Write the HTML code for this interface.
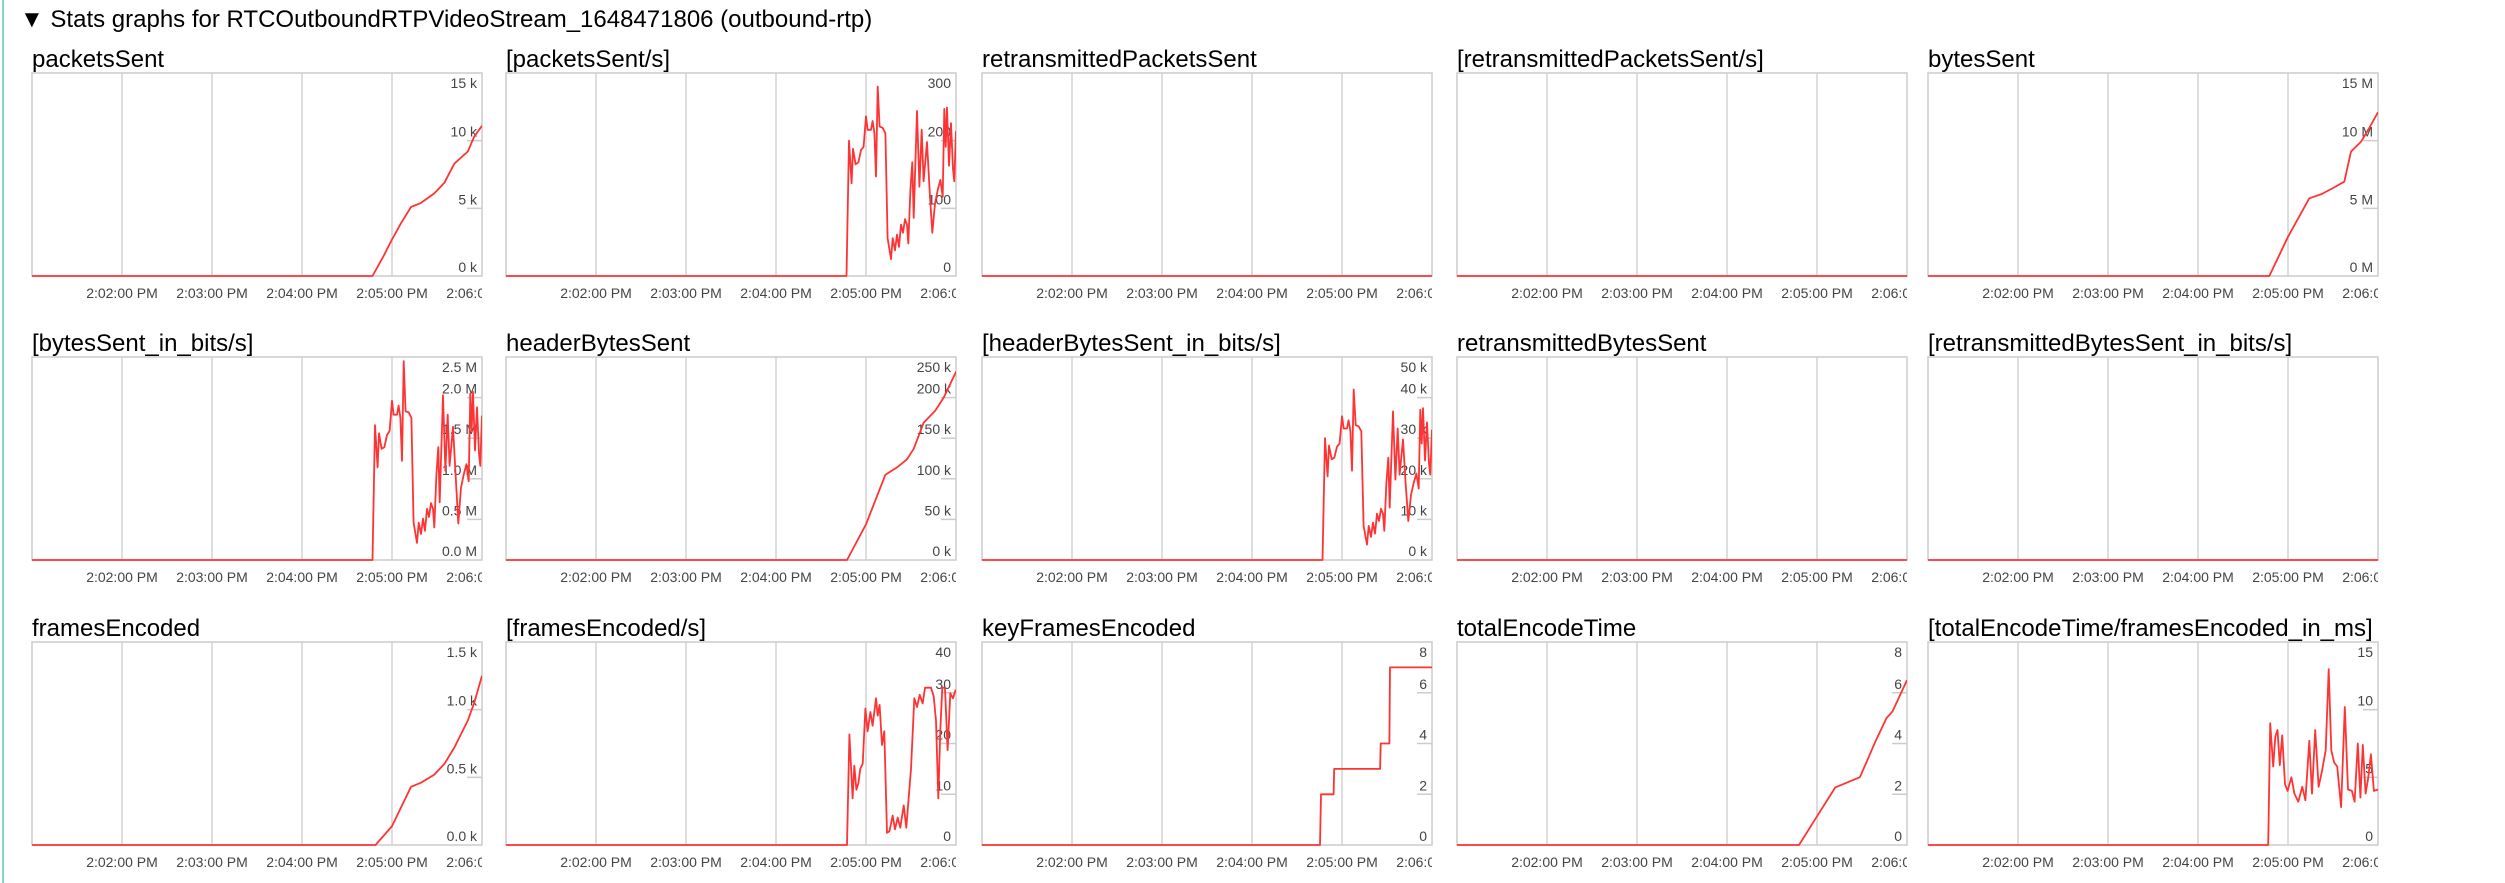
<!DOCTYPE html>
<html><head><meta charset="utf-8"><style>
html,body{margin:0;padding:0;background:#fff;width:2505px;height:883px;overflow:hidden}
svg{display:block}
text{font-family:"Liberation Sans",sans-serif}
</style></head><body>
<svg id="root" width="2505" height="883" viewBox="0 0 2505 883">
<line x1="3" y1="0" x2="3" y2="883" stroke="#7fd6d2" stroke-width="2"/>
<text x="20" y="27" font-size="24" fill="#000">▼ Stats graphs for RTCOutboundRTPVideoStream_1648471806 (outbound-rtp)</text>
</svg>
<script>
// ---- data (t = seconds after 2:01:00 PM) ----
const xTickLabels = ["2:02:00 PM","2:03:00 PM","2:04:00 PM","2:05:00 PM","2:06:00 PM"];
const xTickTimes = [60,120,180,240,300];

const packetsSentT = [0,227,234,240,246,252.7,259.3,268.2,275,281.5,290.5,294.8,300];
const packetsSentV = [0,0,1.4,2.7,3.9,5.1,5.4,6.1,6.9,8.3,9.2,10.3,11.1];

const rateT = [0,227,228.7,230.4,231.3,233.1,234.9,236.7,238.4,240,241.1,243.3,244.4,245.6,246.7,247.8,249.1,251.1,252.9,254.4,256.7,257.8,259.3,260.7,262,263.3,264.7,266,267.3,268.2,269.6,270.9,271.8,274,275.6,277.1,278.4,280.7,282.4,284.2,286,287.8,289.6,291.1,292.2,293.1,294,295.3,296.7,298,298.9,300];
const packetsRateV = [0,0,200,137,188,165,168,186,191,236,216,216,229,211,147,280,221,219,211,56,25,56,38,61,43,76,64,84,76,48,127,168,86,244,132,216,140,198,127,64,107,127,142,117,247,191,249,163,226,158,140,214];
const bitsRateV = [0,0,1.66,1.14,1.56,1.37,1.39,1.54,1.59,1.96,1.79,1.79,1.90,1.75,1.22,2.45,1.83,1.82,1.75,0.46,0.21,0.46,0.32,0.51,0.36,0.63,0.53,0.70,0.63,0.40,1.05,1.39,0.71,2.03,1.10,1.79,1.16,1.64,1.05,0.45,0.89,1.05,1.18,0.97,2.05,1.59,2.07,1.35,1.88,1.31,1.16,1.78];
const headerRateV = [0,0,30,20.6,28.2,24.8,25.2,27.9,28.7,35.4,32.4,32.4,34.4,31.7,22,42,33.2,32.9,31.7,8.4,3.8,8.4,5.7,9.2,6.5,11.4,9.6,12.6,11.4,7.2,19,25.2,12.9,36.6,19.8,32.4,21,29.7,19,9.6,16,19,21.3,17.6,37,28.7,37.4,24.5,33.9,23.7,21,32.1];

const bytesSentT = [0,227.5,234,240,247,254.2,262.5,270,277.5,282,288.7,294,300];
const bytesSentV = [0,0,1.5,2.9,4.3,5.74,6.06,6.5,6.97,9.19,9.93,10.9,12.1];

const headerSentT = [0,227.3,240,252.9,260.7,267.3,271.8,278.4,286.2,291.8,296.2,299.6,300];
const headerSentV = [0,0,44,105,114,124,137,169,184,200,217,230,232];

const framesEncT = [0,229,240,252.7,259.3,268.2,275,281.5,290.5,294.8,300];
const framesEncV = [0,0,0.14,0.43,0.46,0.52,0.6,0.72,0.92,1.05,1.25];

const framesRateT = [0,227.3,228.9,231.1,232.2,233.6,234.9,236.2,237.8,239.6,241.1,242.9,244.4,246.7,247.8,249.1,250.7,252.2,254,255.6,257.8,259.3,261.1,262.9,265.1,266.9,270,272.2,274,275.8,277.8,279.3,283.3,285.1,286.7,288.2,289.6,290.9,292.7,294.4,296.2,298,299.8];
const framesRateV = [0,0,21.8,9.2,15.6,10.9,12.2,15,16,26.9,22.4,26.2,23.5,28.9,25.5,27.6,19.7,22.4,2.4,2.7,5.8,3.1,5.4,3.4,7.8,3.4,15,28.9,27.2,29.6,27.9,31,31,29.3,24.5,9.2,23.1,31,31,18.7,29.9,28.9,30.6];

const keyFramesT = [0,225.3,226,234.4,234.8,265.4,265.8,271.6,272,300];
const keyFramesV = [0,0,2,2,3,3,4,4,7,7];

const encTimeT = [0,228,240,252.2,260.4,268.6,274,278.9,286.3,290.4,300];
const encTimeV = [0,0,1.13,2.27,2.47,2.67,3.4,4.07,5.0,5.27,6.5];

const encPerFrameT = [0,226.8,228.1,230.1,231.5,233,234.5,236.1,238,239.7,242.3,244.3,246.9,249.5,251.6,254.2,256,258.1,260.4,262.5,265.1,267.1,268.9,270.7,272.8,275.4,277.9,280,282.6,284.4,286.5,288.3,289.9,291.7,293.5,295.3,297.3,300];
const encPerFrameV = [0,0,9.0,5.8,8.0,8.5,5.9,8.1,4.5,4.0,5.0,3.8,3.2,4.3,3.3,7.7,3.8,8.5,4.3,5.4,7.0,13.0,7.0,6.1,5.8,2.8,10.2,4.1,4.0,3.2,7.5,3.5,7.4,3.8,5.0,6.7,4.0,4.1];

const flatT = [0,300];
const flatV = [0,0];

const titles = ["packetsSent","[packetsSent/s]","retransmittedPacketsSent","[retransmittedPacketsSent/s]","bytesSent",
"[bytesSent_in_bits/s]","headerBytesSent","[headerBytesSent_in_bits/s]","retransmittedBytesSent","[retransmittedBytesSent_in_bits/s]",
"framesEncoded","[framesEncoded/s]","keyFramesEncoded","totalEncodeTime","[totalEncodeTime/framesEncoded_in_ms]"];
const yTickValues = [[0,5,10,15],[0,100,200,300],[],[],[0,5,10,15],
[0,0.5,1,1.5,2,2.5],[0,50,100,150,200,250],[0,10,20,30,40,50],[],[],
[0,0.5,1,1.5],[0,10,20,30,40],[0,2,4,6,8],[0,2,4,6,8],[0,5,10,15]];
const yTickLabels = [["0 k","5 k","10 k","15 k"],["0","100","200","300"],[],[],["0 M","5 M","10 M","15 M"],
["0.0 M","0.5 M","1.0 M","1.5 M","2.0 M","2.5 M"],["0 k","50 k","100 k","150 k","200 k","250 k"],["0 k","10 k","20 k","30 k","40 k","50 k"],[],[],
["0.0 k","0.5 k","1.0 k","1.5 k"],["0","10","20","30","40"],["0","2","4","6","8"],["0","2","4","6","8"],["0","5","10","15"]];
const seriesT = [packetsSentT,rateT,flatT,flatT,bytesSentT,rateT,headerSentT,rateT,flatT,flatT,framesEncT,framesRateT,keyFramesT,encTimeT,encPerFrameT];
const seriesV = [packetsSentV,packetsRateV,flatV,flatV,bytesSentV,bitsRateV,headerSentV,headerRateV,flatV,flatV,framesEncV,framesRateV,keyFramesV,encTimeV,encPerFrameV];

// ---- layout ----
const colLeft = [32,506,982,1457,1928];
const rowTop = [73,357,642];
const W = 450, H = 203, PX_PER_SEC = 1.5;
const NS = "http://www.w3.org/2000/svg";
const root = document.getElementById('root');
function mk(tag, attrs, parent){const e=document.createElementNS(NS,tag);for(const k in attrs)e.setAttribute(k,attrs[k]);(parent||root).appendChild(e);return e;}

for(let i=0;i<15;i++){
  const L = colLeft[i%5], T = rowTop[Math.floor(i/5)];
  const t0 = 300 - W/PX_PER_SEC;
  const xS = t => L + (t - t0) * PX_PER_SEC;
  const ticks = yTickValues[i];
  const yMax = ticks.length ? ticks[ticks.length-1] : 1;
  const yS = v => T + H - v / yMax * H;
  const g = mk('g',{});
  
  
  const title = mk('text',{x:L,y:T-6,'font-size':24,fill:'#000'},g);
  title.textContent = titles[i];
  
  
  const clipId = 'clip'+i;
  const cp = mk('clipPath',{id:clipId},g);
  mk('rect',{x:L,y:T-2,width:W,height:H+30},cp);
  for(let k=0;k<xTickTimes.length;k++){
    const x = xS(xTickTimes[k]);
    if (x < L+W-1){
      const gl = mk('line',{x1:x,y1:T,x2:x,y2:T+H,stroke:'#d4d4d4','stroke-width':1.5},g);
      
      
    }
    const tl = mk('text',{x:x,y:T+H+22,'font-size':14,fill:'#444','text-anchor':'middle','clip-path':'url(#'+clipId+')'},g);
    tl.textContent = xTickLabels[k];
    
    
  }
  for(let k=0;k<ticks.length;k++){
    const y = yS(ticks[k]);
    if(k>0 && k<ticks.length-1){
      const tm = mk('line',{x1:L+W-15,y1:y,x2:L+W,y2:y,stroke:'#ccc','stroke-width':1.5},g);
      
      
    }
    const ly = Math.max(y - 4, T + 15);
    const lab = mk('text',{x:L+W-5,y:ly,'font-size':14,fill:'#444','text-anchor':'end'},g);
    lab.textContent = yTickLabels[i][k];
    
    
  }
  const border = mk('rect',{x:L,y:T,width:W,height:H,fill:'none',stroke:'#ccc','stroke-width':1.5},g);
  
  
  const ts = seriesT[i], vs = seriesV[i];
  let d = '';
  for(let k=0;k<ts.length;k++){ d += (k?'L':'M') + xS(Math.max(ts[k],t0)).toFixed(1) + ',' + yS(vs[k]).toFixed(1); }
  const line = mk('path',{d:d,fill:'none',stroke:'#ff3333','stroke-width':1.8,'stroke-linejoin':'round','clip-path':'url(#'+clipId+')'},g);
  
  
}
</script>
</body></html>
